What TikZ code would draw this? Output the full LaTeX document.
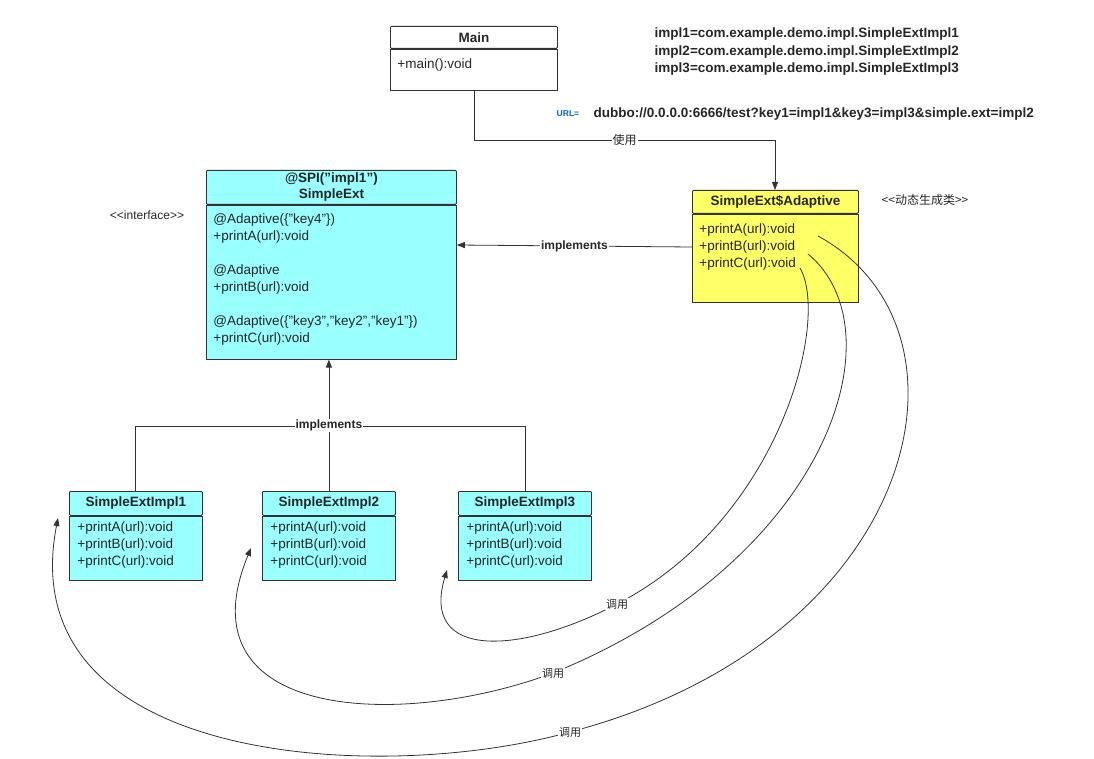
\documentclass[tikz,border=0pt]{standalone}
\usepackage{fontspec}
\setmainfont{Liberation Sans}
\newfontfamily\cjk{Noto Sans CJK SC}
\usetikzlibrary{positioning,arrows.meta}
\definecolor{cyanbox}{HTML}{99FFFF}
\definecolor{yellowbox}{HTML}{FFFF66}
\definecolor{urlblue}{HTML}{0066CC}
\begin{document}
\begin{tikzpicture}
[x=1pt, y=-1pt, thick, draw=black!80, text=black!85,
font=\fontsize{13.5}{17}\selectfont,
head/.style = {draw=black!80, thick, rounded corners=1pt, anchor=north west, inner sep=0pt,
               font=\fontsize{13.5}{16}\selectfont\bfseries},
body/.style = {draw=black!80, thick, anchor=north west, inner sep=0pt},
members/.style = {anchor=north west, align=left, inner xsep=7pt, inner ysep=6pt},
lbl/.style = {fill=white, inner sep=1pt, font=\fontsize{12}{14}\selectfont\bfseries},
call/.style = {fill=white, inner sep=1pt, font=\fontsize{11}{13}\selectfont\cjk},
arr/.style = {-{Triangle[length=8pt,width=6pt]}}]
\useasboundingbox (0,0) rectangle (1094,759);
% classes
\node[head, minimum width=167, minimum height=22, fill=white] (main) at (390,26) {Main};
\node[body, minimum width=167, minimum height=41, fill=white] (mainb) at (main.south west) {};
\node[members, inner ysep=10pt] (mainm) at (mainb.north west) {+main():void};
\node[head, minimum width=250, minimum height=34, fill=cyanbox, align=center] (ext) at (206,170) {@SPI("impl1")\\SimpleExt};
\node[body, minimum width=250, minimum height=154, fill=cyanbox] (extb) at (ext.south west) {};
\node[members, inner ysep=9pt] (extm) at (extb.north west)
  {@Adaptive(\{"key4"\})\\+printA(url):void\\[17pt]@Adaptive\\+printB(url):void\\[17pt]@Adaptive(\{"key3","key2","key1"\})\\+printC(url):void};
\node[head, minimum width=166, minimum height=23, fill=yellowbox] (adp) at (692,190) {SimpleExt\$Adaptive};
\node[body, minimum width=166, minimum height=88, fill=yellowbox] (adpb) at (adp.south west) {};
\node[members, inner ysep=10pt] (adpm) at (adpb.north west) {+printA(url):void\\+printB(url):void\\+printC(url):void};
\foreach \i/\x in {1/69, 2/262, 3/458} {
  \node[head, minimum width=133, minimum height=24, fill=cyanbox] (impl\i) at (\x,491) {SimpleExtImpl\i};
  \node[body, minimum width=133, minimum height=64, fill=cyanbox] (impl\i b) at (impl\i.south west) {};
  \node[members, inner xsep=8pt] (impl\i m) at (impl\i b.north west) {+printA(url):void\\+printB(url):void\\+printC(url):void};
}
% notes
\node[anchor=west, align=left, font=\fontsize{13.5}{17.5}\selectfont\bfseries] (props) at (651,52)
  {impl1=com.example.demo.impl.SimpleExtImpl1\\impl2=com.example.demo.impl.SimpleExtImpl2\\impl3=com.example.demo.impl.SimpleExtImpl3};
\node[anchor=west, text=urlblue, font=\fontsize{8.5}{10}\selectfont\bfseries] (urlkey) at (553,114) {URL=};
\node[anchor=west, font=\fontsize{13.5}{16}\selectfont\bfseries] (url) at (590,114) {dubbo://0.0.0.0:6666/test?key1=impl1\&key3=impl3\&simple.ext=impl2};
\node[font=\fontsize{12}{14}\selectfont] (iface) at (147,215) {<{}<interface>{}>};
\node[font=\fontsize{12}{14}\selectfont\cjk] (dyn) at (925,200) {<{}<动态生成类>{}>};
% connectors
\coordinate (c1) at (474,140);
\coordinate (c2) at (775,140);
\draw[arr] (mainb.south -| c1) -- (c1) -- node[call, font=\fontsize{12}{14}\selectfont\cjk]{使用} (c2) -- (adp.north -| c2);
\draw[arr] (adpb.west |- 0,247) -- node[lbl]{implements} (extb.east |- 0,245);
\coordinate (j1) at (135,426);
\coordinate (j3) at (525,426);
\draw (impl1.north -| j1) -- (j1) -- (j3) -- (impl3.north -| j3);
\draw[arr] (impl2.north) -- node[lbl, pos=0.5]{implements} (extb.south -| impl2.north);
\coordinate (a) at (818,236);
\coordinate (b) at (808,254);
\coordinate (c) at (800,268);
\draw[arr] (c) .. controls (830,320) and (780,520) .. (617,604) node[call]{调用}
  .. controls (520,655) and (420,660) .. (447,570);
\draw[arr] (b) .. controls (900,330) and (830,560) .. (553,673) node[call]{调用}
  .. controls (400,730) and (180,720) .. (251,548) ;
\draw[arr] (a) .. controls (990,330) and (920,640) .. (570,732) node[call]{调用}
  .. controls (380,785) and (10,765) .. (58,518);
\end{tikzpicture}
\end{document}
